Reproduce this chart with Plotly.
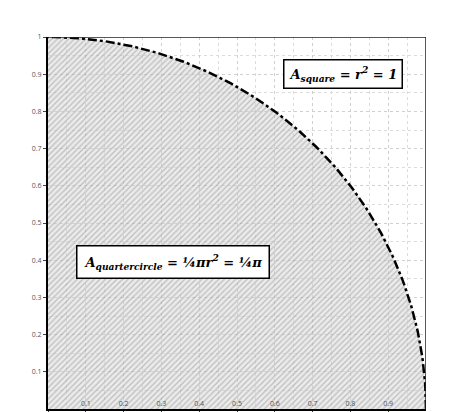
import numpy as np
import plotly.graph_objects as go

r = 1.0
theta = np.linspace(0, np.pi / 2, 200)
arc_x = list(r * np.cos(theta))
arc_y = list(r * np.sin(theta))
tick_vals = [0, 0.1, 0.2, 0.3, 0.4, 0.5, 0.6, 0.7, 0.8, 0.9, 1]
tick_text = ["0", "0.1", "0.2", "0.3", "0.4", "0.5", "0.6", "0.7", "0.8", "0.9", "1"]

fig = go.Figure()
fig.add_trace(go.Scatter(
    x=[0] + arc_x + [0], y=[0] + arc_y + [0], mode="none", fill="toself",
    fillcolor="rgba(200,200,200,0.55)",
    fillpattern=dict(shape="/", fgcolor="rgba(120,120,120,0.8)", bgcolor="rgba(215,215,215,0.5)", size=4, solidity=0.3),
    hoverinfo="skip"))
fig.add_trace(go.Scatter(x=arc_x, y=arc_y, mode="lines",
                         line=dict(color="black", width=2.5, dash="dashdot"), hoverinfo="skip"))
fig.add_trace(go.Scatter(x=[0, 1, 1], y=[1, 1, 0], mode="lines",
                         line=dict(color="#222", width=1.5), hoverinfo="skip"))

axis_common = dict(range=[0, 1.0], showgrid=True, gridcolor="#cfcfcf", griddash="dot",
                   gridwidth=1, zeroline=False, showline=True, linecolor="black",
                   linewidth=2, ticks="outside", ticklen=3, tickfont=dict(size=7, color="#555"),
                   tickmode="array")
fig.update_xaxes(**axis_common, tickvals=tick_vals[:-1], ticktext=tick_text[:-1],
                 ticklabelposition="inside")
fig.update_yaxes(**axis_common, tickvals=tick_vals[1:], ticktext=tick_text[1:])
fig.update_xaxes(minor=dict(dtick=0.05, showgrid=True, gridcolor="#dcdcdc", griddash="dot"))
fig.update_yaxes(minor=dict(dtick=0.05, showgrid=True, gridcolor="#dcdcdc", griddash="dot"))

fig.add_annotation(x=0.78, y=0.9, xref="x", yref="y", showarrow=False,
                   text="<b><i>A<sub>square</sub> = r<sup>2</sup> = 1</i></b>",
                   font=dict(family="DejaVu Serif", size=13, color="black"),
                   bordercolor="black", borderwidth=1.5, borderpad=4, bgcolor="white")
fig.add_annotation(x=0.33, y=0.395, xref="x", yref="y", showarrow=False,
                   text="<b><i>A<sub>quartercircle</sub> = ¼πr<sup>2</sup> = ¼π</i></b>",
                   font=dict(family="DejaVu Serif", size=13, color="black"),
                   bordercolor="black", borderwidth=1.5, borderpad=6, bgcolor="white")

fig.update_layout(width=474, height=412, margin=dict(l=40, r=56, t=29, b=8),
                  plot_bgcolor="white", paper_bgcolor="white", showlegend=False)
fig.write_html("out.html")
